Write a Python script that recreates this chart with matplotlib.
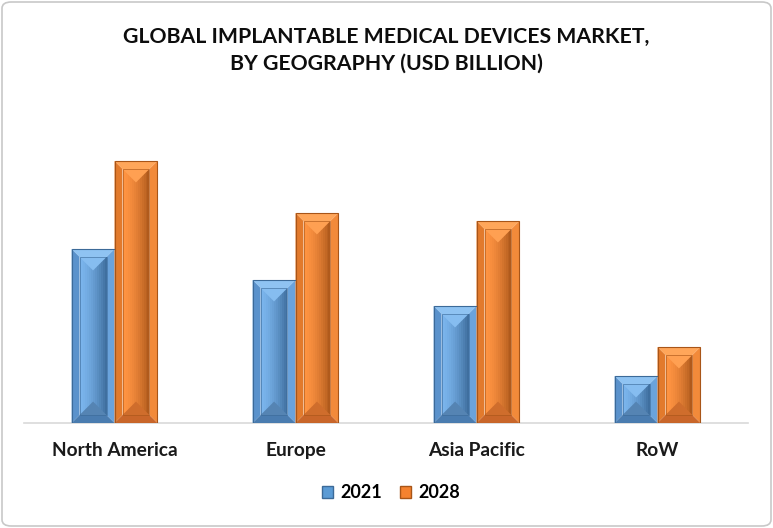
import matplotlib
matplotlib.use('Agg')
import matplotlib.pyplot as plt
from matplotlib.patches import Polygon, Rectangle, FancyBboxPatch, Patch
import numpy as np

# Данные (USD billion, оценены по картинке)
regions = ['North America', 'Europe', 'Asia Pacific', 'RoW']
years = ['2021', '2028']
values_2021 = [34.8, 28.6, 23.4, 9.4]
values_2028 = [52.4, 42.0, 40.4, 15.2]

plt.rcParams['font.family'] = ['Lato', 'DejaVu Sans']

W, H = 773, 528
fig = plt.figure(figsize=(W / 100, H / 100), dpi=100)

# Рамка вокруг картинки
fig.patches.append(FancyBboxPatch((2 / W, 2 / H), 1 - 4 / W, 1 - 4 / H,
                                  boxstyle='round,pad=0,rounding_size=0.012',
                                  transform=fig.transFigure, fill=False,
                                  edgecolor='#c8c8c8', linewidth=1.2))

ax_left, ax_right = 24, 748
ax_bottom, ax_top = 423, 110
ax = fig.add_axes([ax_left / W, 1 - ax_bottom / H, (ax_right - ax_left) / W,
                   (ax_bottom - ax_top) / H])

ymax = 62.6
ax.set_xlim(-0.5, len(regions) - 0.5)
ax.set_ylim(0, ymax)

# перевод пикселей в единицы данных
px_x = len(regions) / (ax_right - ax_left)
px_y = ymax / (ax_bottom - ax_top)

bar_w = 0.237
x = np.arange(len(regions))

colors = {
    '2021': dict(base='#5b9bd5', top='#8fc3f2', left='#5a92cc', right='#6aa3dc',
                 bottom='#4a7cb0', g0='#7ab4ec', g1='#3f6f9f', ttri='#86bdf0',
                 btri='#5584b3', edge='#3c6a98'),
    '2028': dict(base='#f5822f', top='#ffa65a', left='#e27a2c', right='#f28a3a',
                 bottom='#c9662a', g0='#ff9442', g1='#b05a1c', ttri='#ffa052',
                 btri='#cf6d2c', edge='#a85518'),
}


def bevel_bar(x0, x1, h, c):
    b = 8
    bx, by = b * px_x, b * px_y
    xc = (x0 + x1) / 2

    def poly(pts, col):
        ax.add_patch(Polygon(pts, closed=True, facecolor=col, edgecolor='none', zorder=3))

    # внешняя рамка
    poly([(x0, h), (x1, h), (x1 - bx, h - by), (x0 + bx, h - by)], c['top'])
    poly([(x0, 0), (x0, h), (x0 + bx, h - by), (x0 + bx, by)], c['left'])
    poly([(x1, 0), (x1, h), (x1 - bx, h - by), (x1 - bx, by)], c['right'])
    poly([(x0, 0), (x1, 0), (x1 - bx, by), (x0 + bx, by)], c['bottom'])
    # внутренняя часть с градиентом
    ix0, ix1 = x0 + bx, x1 - bx
    iy0, iy1 = by, h - by
    n = 14
    c0 = np.array(matplotlib.colors.to_rgb(c['g0']))
    c1 = np.array(matplotlib.colors.to_rgb(c['g1']))
    for i in range(n):
        t = (i / (n - 1)) ** 1.6
        ax.add_patch(Rectangle((ix0 + (ix1 - ix0) * i / n, iy0), (ix1 - ix0) / n,
                               iy1 - iy0, facecolor=c0 * (1 - t) + c1 * t,
                               edgecolor='none', zorder=3))
    half = (ix1 - ix0) / 2 / px_x * px_y
    tri = min(half, (iy1 - iy0) / 2)
    poly([(ix0, iy1), (ix1, iy1), (xc, iy1 - tri)], c['ttri'])
    poly([(ix0, iy0), (ix1, iy0), (xc, iy0 + tri)], c['btri'])
    ax.add_patch(Rectangle((ix0, iy0), ix1 - ix0, iy1 - iy0, fill=False,
                           edgecolor=c['edge'], linewidth=0.6, alpha=0.7, zorder=4))
    ax.add_patch(Rectangle((x0, 0), x1 - x0, h, fill=False,
                           edgecolor=c['edge'], linewidth=0.8, zorder=4))


bars1 = ax.bar(x - bar_w / 2, values_2021, bar_w, color='none')
bars2 = ax.bar(x + bar_w / 2, values_2028, bar_w, color='none')
for bars, yr in [(bars1, '2021'), (bars2, '2028')]:
    for r in bars:
        bevel_bar(r.get_x(), r.get_x() + r.get_width(), r.get_height(), colors[yr])

# Оси
for s in ['left', 'right', 'top']:
    ax.spines[s].set_visible(False)
ax.spines['bottom'].set_color('#d9d9d9')
ax.spines['bottom'].set_linewidth(1.2)
ax.set_yticks([])
ax.set_xticks(x)
ax.set_xticklabels(regions, fontsize=13.8, fontweight='bold', color='#1a1a1a')
ax.tick_params(axis='x', length=0, pad=14)
ax.patch.set_alpha(0)

# Заголовок
fig.text(0.5, 1 - 50 / H, 'GLOBAL IMPLANTABLE MEDICAL DEVICES MARKET,\nBY GEOGRAPHY (USD BILLION)',
         ha='center', va='center', fontsize=15.3, fontweight='bold',
         linespacing=1.4, color='#0d0d0d')

# Легенда
handles = [Patch(facecolor=colors[y]['base'], edgecolor=colors[y]['edge']) for y in years]
fig.legend(handles, years, loc='center', bbox_to_anchor=(0.506, 1 - 493 / H),
           ncol=2, frameon=False, prop={'weight': 'bold', 'size': 13},
           handlelength=0.6, handleheight=0.6, handletextpad=0.4, columnspacing=1.0)

plt.savefig('out.png', dpi=100)
